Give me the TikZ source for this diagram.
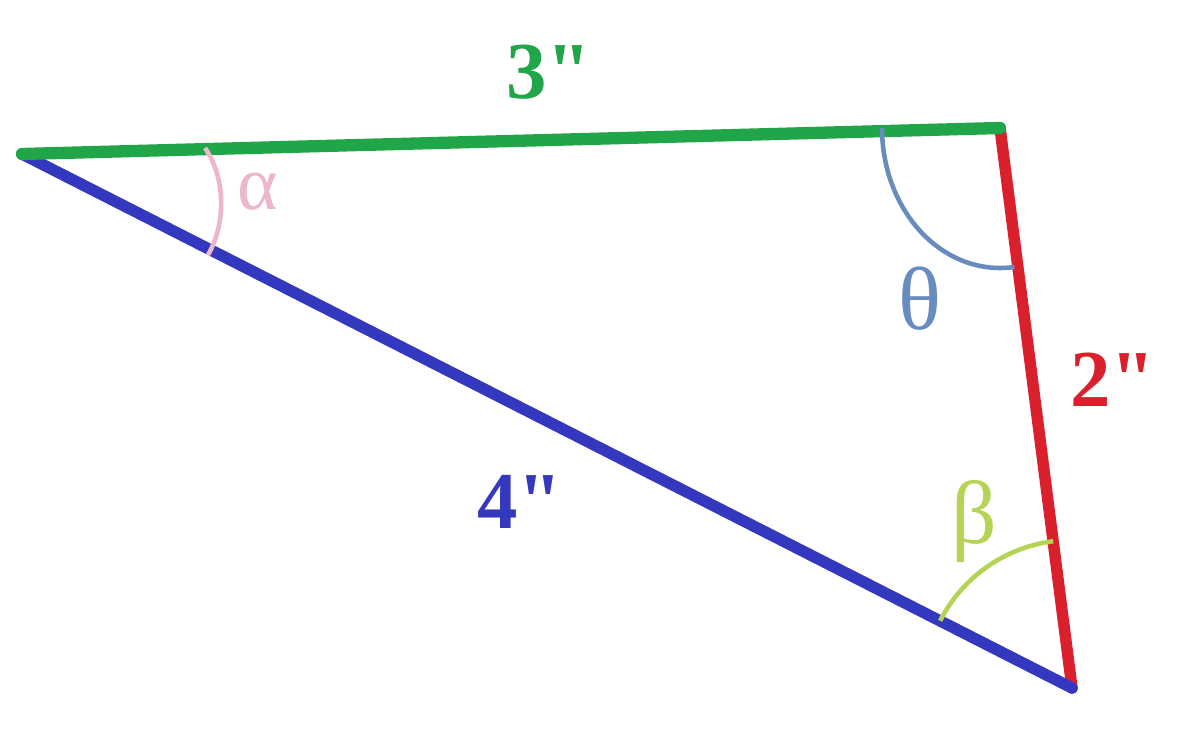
\documentclass[tikz,border=0pt]{standalone}
\usepackage{fontspec}
\setmainfont{Liberation Serif}[Ligatures=TeXOff]
\usepackage{xcolor}
\usepackage{tikz}
\definecolor{trigreen}{RGB}{32, 165, 72}
\definecolor{triblue}{RGB}{52, 56, 190}
\definecolor{trired}{RGB}{218, 32, 45}
\definecolor{tripink}{RGB}{236, 182, 204}
\definecolor{trislate}{RGB}{104, 140, 190}
\definecolor{trilime}{RGB}{182, 212, 84}

\tikzset{
  side/.style={line width=6.5pt, line cap=round},
  anglearc/.style={line width=2.6pt},
  sidelabel/.style={font=\fontsize{46}{48}\selectfont\bfseries},
  anglelabel/.style={font=\fontsize{51}{53}\selectfont}
}

\begin{document}
\begin{tikzpicture}[x=0.02cm,y=0.02cm]
\useasboundingbox (0,0) rectangle (1200,754);

% Corners
\coordinate (A) at (22,600);
\coordinate (B) at (1000,626);
\coordinate (C) at (1072,66);

% Sides
\draw[side, trired] (B) -- (C);
\draw[side, triblue] (A) -- (C);
\draw[side, trigreen, line width=7pt] (A) -- (B);

% Angles
\coordinate (alphatop) at (205,606);
\coordinate (alphabot) at (208,499);
\draw[anglearc, tripink] (alphatop) .. controls (226,576) and (226,530) .. (alphabot);
\draw[anglearc, trislate] (B) ++(-118,0) arc[start angle=180, end angle=277, x radius=118, y radius=140];
\draw[anglearc, trilime] (C) ++(153:148) arc[start angle=153, end angle=97.3, radius=148];

% Labels
\node[sidelabel, trigreen] (top) at (549,682) {3"};
\node[sidelabel, trired] (right) at (1113,374) {2"};
\node[sidelabel, triblue] (bottom) at (520,252) {4"};
\node[anglelabel, tripink, font=\fontsize{44}{46}\selectfont] (alpha) at (258,562) {α};
\node[anglelabel, trislate] (theta) at (920,455) {θ};
\node[anglelabel, trilime] (beta) at (974,233) {β};
\end{tikzpicture}
\end{document}
